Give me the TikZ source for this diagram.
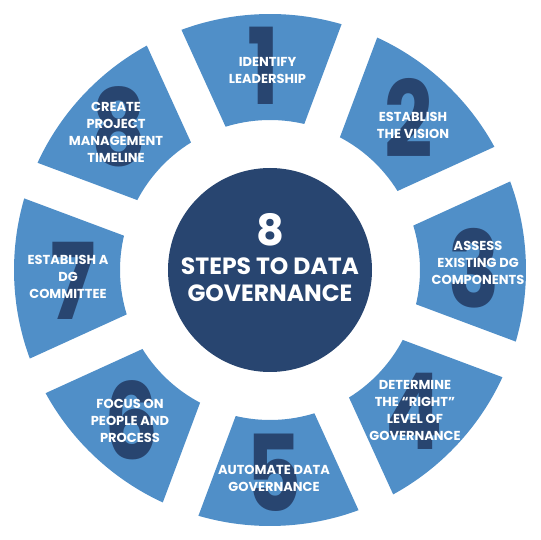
\documentclass[tikz,border=0pt]{standalone}
\usepackage{fontspec}
\usepackage{graphicx}
\setmainfont{Poppins}
\definecolor{segblue}{RGB}{80,143,200}
\definecolor{navy}{RGB}{40,69,112}
\begin{document}
\begin{tikzpicture}[
  segshape/.style={fill=segblue},
  digitnode/.style={text=navy, inner sep=0pt, font=\bfseries\fontsize{106}{106}\selectfont},
  steptext/.style={text=white, align=center, inner sep=0pt, font=\bfseries\fontsize{13}{17}\selectfont},
  centertext/.style={text=white, inner sep=0pt, anchor=base, font=\bfseries\fontsize{23.5}{27}\selectfont}
]
\useasboundingbox (-270pt,-270pt) rectangle (270pt,270pt);
% ring segments
\foreach \k in {0,...,7}{
  \pgfmathsetmacro\ang{92-45*\k}
  \fill[segshape] (\ang+18.24:256pt) arc[start angle=\ang+18.24, end angle=\ang-18.24, radius=256pt]
    -- (\ang-15.22:150pt) arc[start angle=\ang-15.22, end angle=\ang+15.22, radius=150pt] -- cycle;
}
% big digits
\node[digitnode] (d1) at (-7pt,204pt) {\scalebox{0.8}[1]{1}};
\node[digitnode] (d2) at (139pt,152pt) {\scalebox{0.8}[1]{2}};
\node[digitnode] (d3) at (204pt,2pt) {\scalebox{0.8}[1]{3}};
\node[digitnode] (d4) at (144pt,-141pt) {\scalebox{0.8}[1]{4}};
\node[digitnode] (d5) at (4pt,-203pt) {\scalebox{0.8}[1]{5}};
\node[digitnode] (d6) at (-138pt,-150pt) {\scalebox{0.8}[1]{6}};
\node[digitnode] (d7) at (-197pt,-11pt) {\scalebox{0.8}[1]{7}};
\node[digitnode] (d8) at (-151pt,143pt) {\scalebox{0.8}[1]{8}};
% step texts
\node[steptext] (t1) at (-2.5pt,200pt) {IDENTIFY\\LEADERSHIP};
\node[steptext] (t2) at (143pt,145pt) {ESTABLISH\\THE VISION};
\node[steptext] (t3) at (208pt,7pt) {ASSESS\\EXISTING DG\\COMPONENTS};
\node[steptext] (t4) at (145pt,-140pt) {DETERMINE\\THE “RIGHT”\\LEVEL OF\\GOVERNANCE};
\node[steptext] (t5) at (4pt,-208pt) {AUTOMATE DATA\\GOVERNANCE};
\node[steptext] (t6) at (-140pt,-151pt) {FOCUS ON\\PEOPLE AND\\PROCESS};
\node[steptext] (t7) at (-202pt,-7pt) {ESTABLISH A\\DG\\COMMITTEE};
\node[steptext] (t8) at (-154pt,138pt) {CREATE\\PROJECT\\MANAGEMENT\\TIMELINE};
% center circle
\node[circle, fill=navy, minimum size=204pt, inner sep=0pt] (hub) at (0,0) {};
\node[centertext, font=\bfseries\fontsize{43}{46}\selectfont] (c8) at (0pt,24pt) {8};
\node[centertext] (c1) at (0pt,-5pt) {STEPS TO DATA};
\node[centertext] (c2) at (0pt,-32pt) {GOVERNANCE};
\end{tikzpicture}
\end{document}
